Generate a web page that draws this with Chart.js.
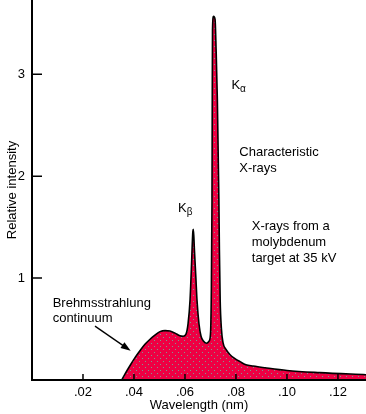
<!DOCTYPE html>
<html>
<head>
<meta charset="utf-8">
<script src="https://cdn.jsdelivr.net/npm/chart.js@4"></script>
<style>
body{margin:0;background:#fff}
#wrap{width:366px;height:414px;position:relative}
</style>
</head>
<body>
<div id="wrap"><canvas id="spectrumChart"></canvas></div>
<script>
// wavelength (nm) and relative intensity
var wavelength = [0.0352,0.0365,0.0384,0.0404,0.0424,0.0443,0.0463,0.0482,0.0502,0.0522,
  0.0541,0.0561,0.0580,0.0593,0.0604,0.0612,0.0620,0.0625,0.0631,0.0633,
  0.0637,0.0643,0.0647,0.0655,0.0663,0.0673,0.0685,0.0694,0.0700,0.0703,
  0.0706,0.0707,0.0708,0.0712,0.0718,0.0722,0.0727,0.0733,0.0735,0.0738,
  0.0743,0.0749,0.0761,0.0776,0.0796,0.0816,0.0839,0.0867,0.0914,0.1000,
  0.1129,0.1310];
var intensity = [0,0.06,0.14,0.22,0.29,0.35,0.40,0.44,0.475,0.485,
  0.48,0.46,0.435,0.43,0.45,0.55,0.79,1.09,1.46,1.48,
  1.28,0.99,0.79,0.55,0.43,0.38,0.36,0.38,0.45,0.79,
  1.77,2.75,3.44,3.57,3.54,3.25,2.75,1.77,1.28,0.79,
  0.50,0.37,0.30,0.25,0.21,0.18,0.15,0.137,0.12,0.093,
  0.072,0.052];
var xTicks = [0.02,0.04,0.06,0.08,0.10,0.12];
var yTicks = [1,2,3];

var points = wavelength.map(function(w,i){ return {x:w, y:intensity[i]}; });
var fontFamily = "'Liberation Sans', Arial, sans-serif";

function stipple(){
  var c = document.createElement('canvas');
  c.width = 6; c.height = 6;
  var g = c.getContext('2d');
  g.fillStyle = '#ee0043';
  g.fillRect(0,0,6,6);
  g.fillStyle = '#7f9a8e';
  g.fillRect(1,1,1,1);
  g.fillRect(4,4,1,1);
  return g.createPattern(c,'repeat');
}

var decorations = {
  id: 'decorations',
  afterDatasetsDraw: function(chart){
    var ctx = chart.ctx, sx = chart.scales.x, sy = chart.scales.y, a = chart.chartArea;
    ctx.save();
    ctx.strokeStyle = '#000';
    ctx.lineWidth = 2;
    ctx.beginPath();
    ctx.moveTo(a.left, a.top);
    ctx.lineTo(a.left, a.bottom);
    ctx.lineTo(a.right, a.bottom);
    ctx.stroke();
    // inward tick marks
    ctx.lineWidth = 1.5;
    ctx.beginPath();
    xTicks.forEach(function(v){
      var px = sx.getPixelForValue(v);
      ctx.moveTo(px, a.bottom);
      ctx.lineTo(px, a.bottom - 6);
    });
    yTicks.forEach(function(v){
      var py = sy.getPixelForValue(v);
      ctx.moveTo(a.left, py);
      ctx.lineTo(a.left + 10, py);
    });
    ctx.stroke();

    ctx.fillStyle = '#000';
    ctx.textAlign = 'left';
    ctx.textBaseline = 'alphabetic';
    function text(str, vx, vy, dy){
      ctx.font = '13px ' + fontFamily;
      ctx.fillText(str, sx.getPixelForValue(vx), sy.getPixelForValue(vy) + (dy || 0));
    }
    function sub(main, s, vx, vy){
      var px = sx.getPixelForValue(vx), py = sy.getPixelForValue(vy);
      ctx.font = '13px ' + fontFamily;
      ctx.fillText(main, px, py);
      var w = ctx.measureText(main).width;
      ctx.font = '10px ' + fontFamily;
      ctx.fillText(s, px + w, py + 3);
    }
    sub('K', '\u03b1', 0.0782, 2.853);
    sub('K', '\u03b2', 0.0573, 1.647);
    text('Characteristic', 0.0813, 2.196);
    text('X-rays', 0.0813, 2.196, 16);
    text('X-rays from a', 0.0862, 1.471);
    text('molybdenum', 0.0862, 1.471, 16);
    text('target at 35 kV', 0.0862, 1.471, 32);
    text('Brehmsstrahlung', 0.0081, 0.716);
    text('continuum', 0.0081, 0.716, 15);

    // arrow to the continuum
    var x1 = sx.getPixelForValue(0.0247), y1 = sy.getPixelForValue(0.529);
    var x2 = sx.getPixelForValue(0.0387), y2 = sy.getPixelForValue(0.287);
    var ang = Math.atan2(y2 - y1, x2 - x1);
    ctx.lineWidth = 1.3;
    ctx.beginPath();
    ctx.moveTo(x1, y1);
    ctx.lineTo(x2 - 6 * Math.cos(ang), y2 - 6 * Math.sin(ang));
    ctx.stroke();
    ctx.beginPath();
    ctx.moveTo(x2, y2);
    ctx.lineTo(x2 - 10 * Math.cos(ang) + 3.5 * Math.sin(ang), y2 - 10 * Math.sin(ang) - 3.5 * Math.cos(ang));
    ctx.lineTo(x2 - 10 * Math.cos(ang) - 3.5 * Math.sin(ang), y2 - 10 * Math.sin(ang) + 3.5 * Math.cos(ang));
    ctx.closePath();
    ctx.fill();
    ctx.restore();
  }
};

var ctx = document.getElementById('spectrumChart');
var chart = new Chart(ctx, {
  type: 'line',
  data: {
    datasets: [{
      label: 'Intensity',
      data: points,
      borderColor: '#000',
      borderWidth: 1.6,
      backgroundColor: stipple(),
      fill: 'origin',
      pointRadius: 0,
      cubicInterpolationMode: 'monotone'
    }]
  },
  options: {
    responsive: true,
    maintainAspectRatio: false,
    animation: false,
    layout: { padding: 0 },
    plugins: {
      legend: { display: false },
      tooltip: { enabled: false }
    },
    scales: {
      x: {
        type: 'linear',
        min: 0,
        max: 0.131,
        grid: { display: false, drawTicks: false },
        border: { display: false },
        afterBuildTicks: function(s){ s.ticks = xTicks.map(function(v){ return {value:v}; }); },
        afterFit: function(s){ s.height = 34; s.paddingLeft = 0; s.paddingRight = 0; },
        ticks: {
          color: '#000',
          padding: 5,
          maxRotation: 0,
          autoSkip: false,
          font: { size: 13, family: fontFamily },
          callback: function(v){ return v.toFixed(2).replace(/^0/, ''); }
        },
        title: {
          display: true,
          text: 'Wavelength (nm)',
          color: '#000',
          padding: { top: 0, bottom: 1 },
          font: { size: 13, family: fontFamily }
        }
      },
      y: {
        min: 0,
        max: 3.73,
        grid: { display: false, drawTicks: false },
        border: { display: false },
        afterBuildTicks: function(s){ s.ticks = yTicks.map(function(v){ return {value:v}; }); },
        afterFit: function(s){ s.width = 32; s.paddingTop = 0; s.paddingBottom = 0; },
        ticks: {
          color: '#000',
          padding: 7,
          font: { size: 13, family: fontFamily },
          callback: function(v){ return String(v); }
        },
        title: {
          display: true,
          text: 'Relative intensity',
          color: '#000',
          padding: { top: 5, bottom: 0 },
          font: { size: 13, family: fontFamily }
        }
      }
    }
  },
  plugins: [decorations]
});
</script>
</body>
</html>
